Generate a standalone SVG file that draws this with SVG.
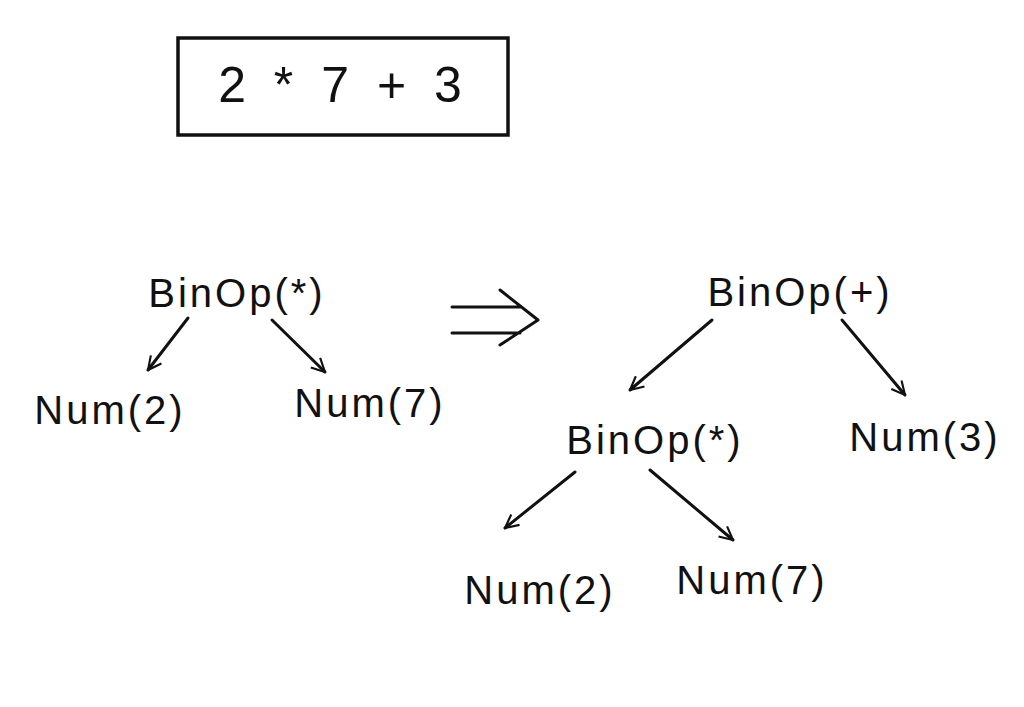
<svg xmlns="http://www.w3.org/2000/svg" width="1024" height="707" viewBox="0 0 1024 707">
<defs>
<marker id="ah" viewBox="0 0 12 12" refX="11" refY="6" markerWidth="16" markerHeight="16" markerUnits="userSpaceOnUse" orient="auto">
<path d="M1,1 L11,6 L1,11" fill="none" stroke="#111" stroke-width="1.6"/>
</marker>
<style>
text{font-family:"Liberation Sans",sans-serif;fill:#111;text-anchor:middle}
.n{font-size:40px;letter-spacing:3px}
.c line{stroke:#111;stroke-width:3;marker-end:url(#ah);stroke-linecap:round}
</style>
</defs>
<rect width="1024" height="707" fill="#fff"/>
<g id="expr">
<rect x="178" y="38" width="330" height="97" fill="none" stroke="#111" stroke-width="3.5"/>
<text x="340" y="102" style="font-size:50px;word-spacing:14px">2 * 7 + 3</text>
</g>
<g id="l_binop"><text class="n" x="237" y="307">BinOp(*)</text></g>
<g id="l_num2"><text class="n" x="110" y="424">Num(2)</text></g>
<g id="l_num7"><text class="n" x="370" y="417">Num(7)</text></g>
<g id="r_binop_plus"><text class="n" x="800" y="306">BinOp(+)</text></g>
<g id="r_binop_mul"><text class="n" x="655" y="454">BinOp(*)</text></g>
<g id="r_num3"><text class="n" x="925" y="451">Num(3)</text></g>
<g id="r_num2"><text class="n" x="540" y="604">Num(2)</text></g>
<g id="r_num7"><text class="n" x="752" y="594">Num(7)</text></g>
<g id="implies" fill="none" stroke="#111" stroke-width="3" stroke-linecap="round" stroke-linejoin="round">
<path d="M452,307 L520,307 M452,333 L520,333 M500,290 L538,320 L500,345"/>
</g>
<g class="c" id="connectors">
<line x1="188" y1="318" x2="148" y2="370"/>
<line x1="272" y1="320" x2="325" y2="372"/>
<line x1="712" y1="320" x2="630" y2="390"/>
<line x1="842" y1="320" x2="905" y2="395"/>
<line x1="575" y1="472" x2="505" y2="528"/>
<line x1="650" y1="470" x2="733" y2="540"/>
</g>
</svg>
